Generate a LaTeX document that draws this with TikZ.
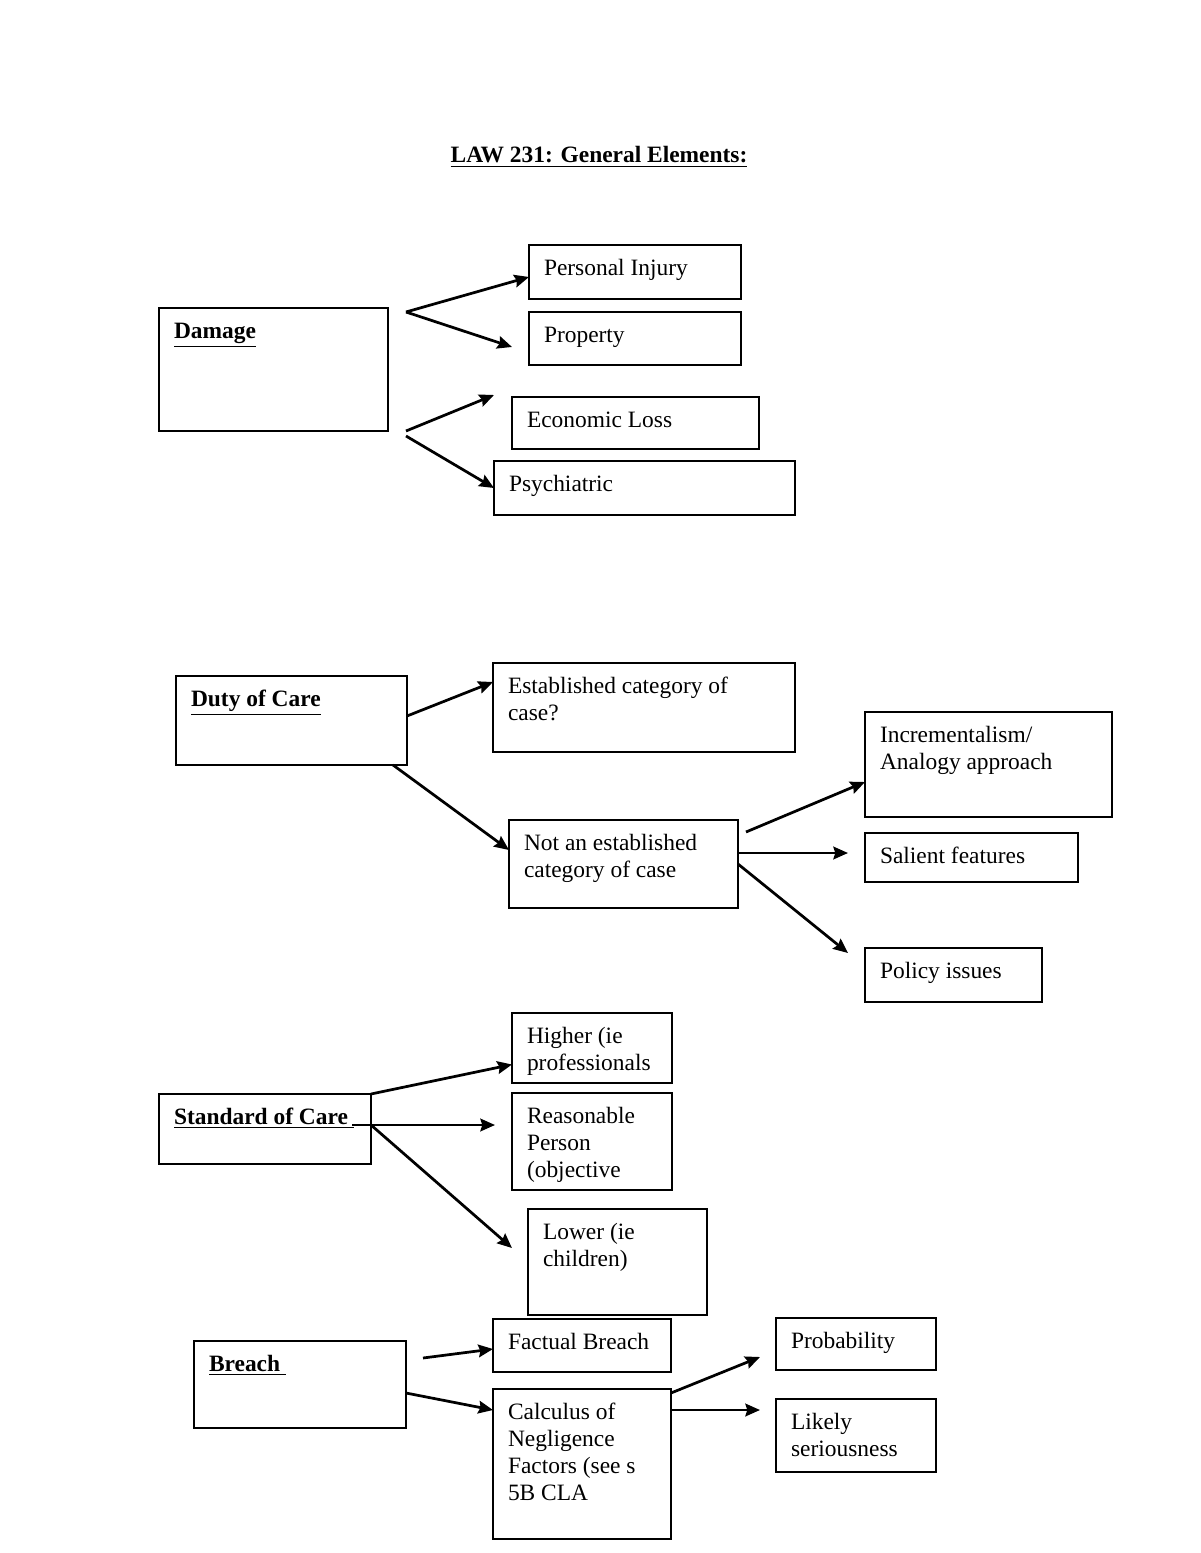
\documentclass[tikz,border=0pt]{standalone}
\usepackage{fontspec}
\setmainfont{Liberation Serif}
\usetikzlibrary{arrows.meta}
\newlength{\ux}
\setlength{\ux}{0.18mm}
\newcommand{\boxtext}[3]{\parbox[t][#2\ux][t]{\dimexpr#1\ux-30\ux\relax}{\raggedright\hyphenpenalty=10000\vspace*{12\ux}\strut#3}}
\tikzstyle{block} = [rectangle, draw=black, line width=1.5pt, anchor=north west, inner xsep=15\ux, inner ysep=0pt, outer sep=0pt]
\tikzstyle{arrow} = [line width=1.4pt, -{Stealth[length=7.5pt, width=6.5pt, inset=1pt]}]
\begin{document}
\begin{tikzpicture}[x=0.18mm, y=-0.18mm, font=\fontsize{12}{13.8}\selectfont]
	\useasboundingbox (0,0) rectangle (1200,1553);
	\node (Title) [anchor=base] at (599,163) {\underline{\textbf{LAW 231: General Elements:}}};
	% Damage
	\node (Damage) [block] at (159,308) {\boxtext{229}{123}{\underline{\textbf{Damage}}}};
	\node (PersonalInjury) [block] at (529,245) {\boxtext{212}{54}{Personal Injury}};
	\node (Property) [block] at (529,312) {\boxtext{212}{53}{Property}};
	\node (EconomicLoss) [block] at (512,397) {\boxtext{247}{52}{Economic Loss}};
	\node (Psychiatric) [block] at (494,461) {\boxtext{301}{54}{Psychiatric}};
	\coordinate (DamageForkA) at (406,312);
	\coordinate (DamageForkB) at (406,431);
	\coordinate (DamageForkC) at (406,436);
	\coordinate (PropertyTip) at (512,347);
	\coordinate (EconomicTip) at (494,395);
	\draw [arrow] (DamageForkA) -- ([yshift=-5\ux]PersonalInjury.west);
	\draw [arrow] (DamageForkA) -- (PropertyTip);
	\draw [arrow] (DamageForkB) -- (EconomicTip);
	\draw [arrow] (DamageForkC) -- (Psychiatric.west);
	% Duty of Care
	\node (Duty) [block] at (176,676) {\boxtext{231}{89}{\underline{\textbf{Duty of Care}}}};
	\node (Established) [block] at (493,663) {\boxtext{302}{89}{Established category of\\case?}};
	\node (NotEstablished) [block] at (509,820) {\boxtext{229}{88}{Not an established\\category of case}};
	\node (Incremental) [block] at (865,712) {\boxtext{247}{105}{Incrementalism/\\Analogy approach}};
	\node (Salient) [block] at (865,833) {\boxtext{213}{49}{Salient features}};
	\node (Policy) [block] at (865,948) {\boxtext{177}{54}{Policy issues}};
	\coordinate (NotEstablishedOut) at (746,832);
	\coordinate (SalientTip) at (848,853);
	\coordinate (PolicyTip) at (848,953);
	\draw [arrow] ([yshift=4.5\ux]Duty.east) -- ([yshift=25.5\ux]Established.west);
	\draw [arrow] ([xshift=-14\ux]Duty.south east) -- ([yshift=14\ux]NotEstablished.west);
	\draw [arrow] (NotEstablishedOut) -- ([yshift=-17.5\ux]Incremental.west);
	\draw [arrow] ([yshift=11\ux]NotEstablished.east) -- (SalientTip);
	\draw [arrow] (NotEstablished.east) -- (PolicyTip);
	% Standard of Care
	\node (Standard) [block] at (159,1094) {\boxtext{212}{70}{\underline{\textbf{Standard of Care}\ }}};
	\node (Higher) [block] at (512,1013) {\boxtext{160}{70}{Higher (ie\\professionals}};
	\node (Reasonable) [block] at (512,1093) {\boxtext{160}{97}{Reasonable\\Person\\(objective}};
	\node (Lower) [block] at (528,1209) {\boxtext{179}{106}{Lower (ie\\children)}};
	\coordinate (StandardLine) at (352,1125);
	\coordinate (ReasonableTip) at (495,1125);
	\coordinate (LowerTip) at (512,1248);
	\draw [arrow] (Standard.north east) -- ([yshift=-16.5\ux]Higher.west);
	\draw [arrow] (StandardLine) -- (ReasonableTip);
	\draw [arrow] ([yshift=4\ux]Standard.east) -- (LowerTip);
	% Breach
	\node (Breach) [block] at (194,1341) {\boxtext{212}{87}{\underline{\textbf{Breach}\ }}};
	\node (Factual) [block] at (493,1319) {\boxtext{178}{53}{Factual Breach}};
	\node (Calculus) [block] at (493,1389) {\boxtext{178}{150}{Calculus of\\Negligence\\Factors (see s\\5B CLA}};
	\node (Probability) [block] at (776,1318) {\boxtext{160}{52}{Probability}};
	\node (Likely) [block] at (776,1399) {\boxtext{160}{73}{Likely\\seriousness}};
	\coordinate (BreachOut) at (423,1358);
	\coordinate (ProbabilityTip) at (760,1357);
	\coordinate (LikelyTip) at (760,1410);
	\draw [arrow] (BreachOut) -- ([yshift=-3.5\ux]Factual.west);
	\draw [arrow] ([yshift=-8.5\ux]Breach.east) -- ([yshift=54\ux]Calculus.west);
	\draw [arrow] ([yshift=-4\ux]Calculus.north east) -- (ProbabilityTip);
	\draw [arrow] ([yshift=54\ux]Calculus.east) -- (LikelyTip);
\end{tikzpicture}
\end{document}
